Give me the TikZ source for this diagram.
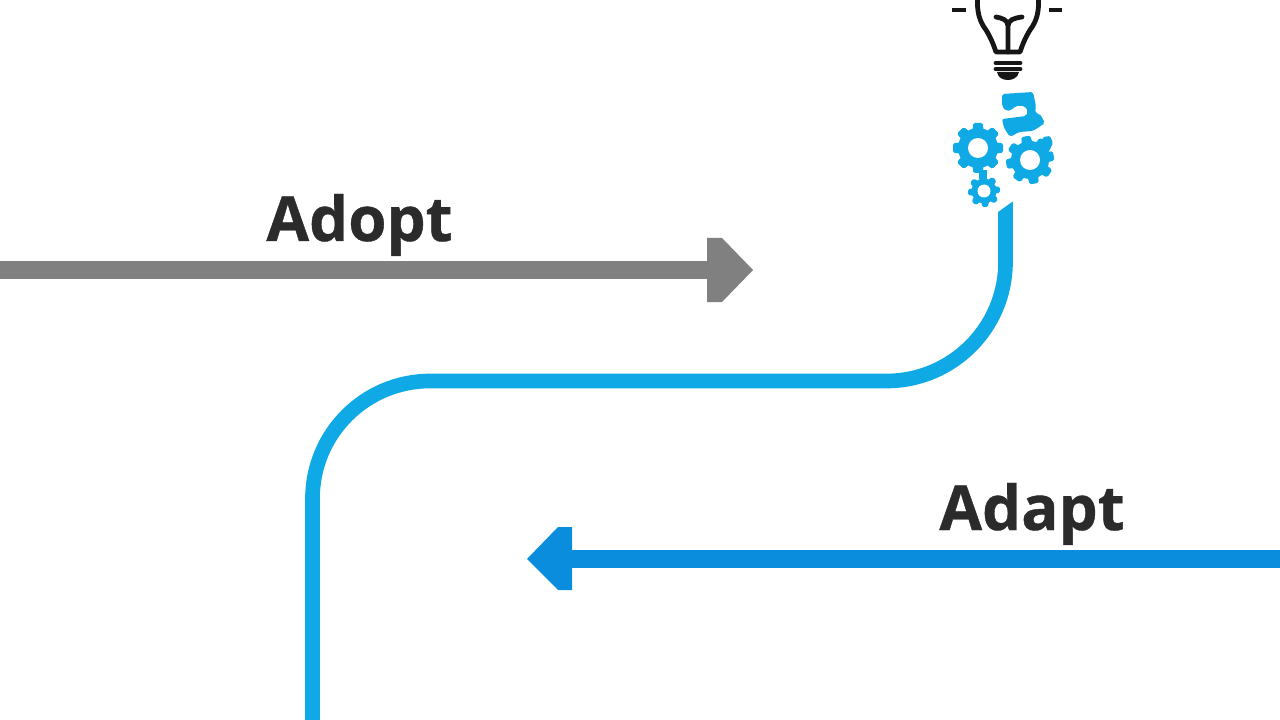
\documentclass[tikz,border=0pt]{standalone}
\usepackage{fontspec}
\setmainfont[FakeBold=0.6]{Open Sans}
\usetikzlibrary{calc}
\definecolor{cyanline}{HTML}{0FA9E6}
\definecolor{deepblue}{HTML}{0A8DDD}
\definecolor{greyline}{HTML}{808080}
\definecolor{inktext}{HTML}{2B2B2B}
\definecolor{bulbink}{HTML}{161616}
\newcommand{\gearshape}[5]{% x,y,outer,inner,rot
  \fill[cyanline] (#1,#2) circle[radius=#4];
  \foreach \a in {0,45,...,315}{
    \fill[cyanline,rounded corners=1.2pt,rotate around={\a+#5:(#1,#2)}] ($(#1,#2)+(-#3*0.30,0)$) -- ($(#1,#2)+(-#3*0.19,-#3)$) -- ($(#1,#2)+(#3*0.19,-#3)$) -- ($(#1,#2)+(#3*0.30,0)$) -- cycle;
  }
}
\tikzset{
  labeltext/.style={font=\bfseries\fontsize{46.4}{46}\selectfont,text=inktext,inner sep=0pt,anchor=base},
  bulbline/.style={draw=bulbink,line width=3.6pt,line cap=round,line join=round},
}
\begin{document}
\begin{tikzpicture}[x=0.75pt,y=-0.75pt]
\useasboundingbox (0,0) rectangle (1280,720);
\fill[white] (0,0) rectangle (1280,720);
\coordinate (grayStart) at (0,270);
\coordinate (grayEnd) at (710,270);
\coordinate (blueStart) at (1280,559);
\coordinate (blueEnd) at (570,559);
\coordinate (routeTop) at (1005.5,195);
\coordinate (routeEnd) at (312.5,720);
\draw[greyline,line width=13pt] (grayStart) -- (grayEnd);
\fill[greyline] (707,238) -- (722,238) -- (753,270) -- (722,302) -- (707,302) -- cycle;
\draw[deepblue,line width=13pt] (blueStart) -- (blueEnd);
\fill[deepblue] (572,527) -- (558,527) -- (527,559) -- (558,590) -- (572,590) -- cycle;
\draw[cyanline,line width=11pt] (routeTop) -- (1005.5,262) arc[start angle=0,end angle=90,radius=119] -- (430,381) arc[start angle=-90,end angle=-180,radius=117.5] -- (routeEnd);
\fill[white] (995,190) -- (1016,190) -- (1016,199) -- (995,214) -- cycle;
\node[labeltext] (adoptLabel) at (359.5,241) {Adopt};
\node[labeltext] (adaptLabel) at (1032,530) {Adapt};
\gearshape{978}{148}{25}{20}{0}
\gearshape{1030}{160}{24}{19}{10}
\gearshape{984}{191}{16}{12.5}{5}
\fill[cyanline,rounded corners=1pt] (1040,150) -- (1043,137) -- (1050,136) -- (1053,143) -- (1048,153) -- cycle;
\fill[white] (978,148) circle[radius=10];
\fill[white] (1030,160) circle[radius=10];
\fill[white] (984,191) circle[radius=6.5];
\fill[cyanline] (979,170) rectangle (987,179);
\fill[cyanline,rounded corners=1.5pt] (1002,94) -- (1033,92) -- (1036,106) -- (1035,113) -- (1040,114) -- (1045,123) -- (1033,131) -- (1019,132) -- (1010,137) -- (1004,128) -- (1002,119) -- (1026,116) -- (1028,112) -- (1025,106) -- (1015,106) -- (1012,110) -- (1006,111) -- (1002,106) -- cycle;
\draw[bulbline] (978,-5) .. controls (976,12) and (980,22) .. (986,30) .. controls (991,38) and (994,46) .. (996,52) -- (1020,52) .. controls (1022,46) and (1025,38) .. (1030,30) .. controls (1036,22) and (1040,12) .. (1038,-5);
\draw[bulbline] (1008,52) -- (1008,26) (996,17) .. controls (1002,18) and (1008,20) .. (1008,26) .. controls (1008,20) and (1014,18) .. (1022,17);
\draw[bulbline] (996,63) -- (1020,63);
\draw[bulbline] (996,69) -- (1020,69);
\fill[bulbink] (997,72) -- (1019,72) .. controls (1018,78) and (1012,80) .. (1008,80) .. controls (1003,80) and (998,78) .. (997,72) -- cycle;
\draw[bulbline,line cap=butt] (952,10) -- (966,10);
\draw[bulbline,line cap=butt] (1049,10) -- (1062,10);
\end{tikzpicture}
\end{document}
